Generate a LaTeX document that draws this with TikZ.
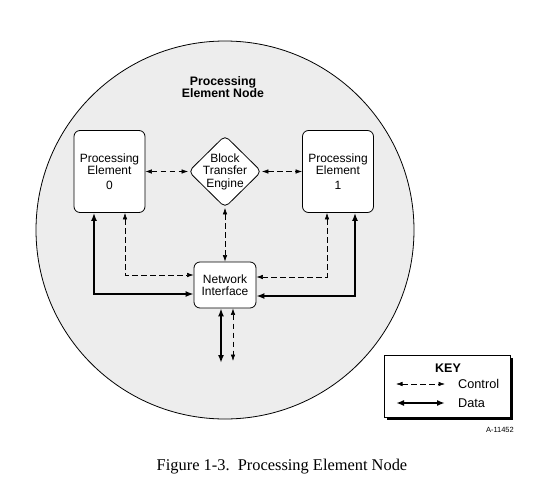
\documentclass[tikz,border=0pt]{standalone}
\usepackage{fontspec}
\setmainfont{Liberation Sans}
\newfontfamily\capfont{Liberation Serif}
\usetikzlibrary{arrows.meta,shapes.geometric,shadows}

\tikzset{
	unit/.style = {draw, thick, fill=white, rounded corners=6pt, align=center,
		font=\fontsize{12}{12.5}\selectfont},
	ctrl/.style = {semithick, dash pattern=on 5.5pt off 3.5pt,
		{Latex[length=6.5pt,width=4.5pt]}-{Latex[length=6.5pt,width=4.5pt]}},
	data/.style = {line width=2pt,
		{Latex[length=8pt,width=6pt]}-{Latex[length=8pt,width=6pt]}},
}

\begin{document}
\begin{tikzpicture}[x=1pt, y=-1pt]
\useasboundingbox (0,0) rectangle (536,485);

% node circle
\node (pen) [circle, draw, thick, fill=black!7, minimum size=378pt, inner sep=0pt] at (225,230) {};
\node (title) [align=center, font=\bfseries\fontsize{12.3}{12}\selectfont] at (223,87) {Processing\\Element Node};

% units
\node (pe0) [unit, minimum width=71pt, minimum height=82pt] at (109.5,171.5) {Processing\\Element\\[2pt]0};
\node (pe1) [unit, minimum width=71pt, minimum height=82pt] at (338,171.5) {Processing\\Element\\[2pt]1};
\node (bte) [diamond, draw, thick, fill=white, rounded corners=5pt, inner sep=0pt,
	minimum width=73pt, minimum height=72pt] at (225,171.5) {};
\node [align=center, font=\fontsize{12}{12.5}\selectfont] at (bte) {Block\\Transfer\\Engine};
\node (ni) [unit, minimum width=62pt, minimum height=46pt] at (225,285) {Network\\Interface};

% control paths
\draw[ctrl] (pe0.east) -- (bte.west);
\draw[ctrl] (bte.east) -- (pe1.west);
\draw[ctrl] (bte.south) -- (ni.north);
\draw[ctrl] ([xshift=15.5pt]pe0.south) |- ([yshift=10pt]ni.west);
\draw[ctrl] ([xshift=-11pt]pe1.south) |- ([yshift=8pt]ni.east);

% data paths
\draw[data] ([xshift=-15.5pt]pe0.south) |- ([yshift=-9pt]ni.west);
\draw[data] ([xshift=17pt]pe1.south) |- ([yshift=-11pt]ni.east);

% off-node links
\coordinate (dout) at (221,363);
\coordinate (cout) at (233,361);
\draw[data] (ni.south -| dout) -- (dout);
\draw[ctrl] (ni.south -| cout) -- (cout);

% key
\node (key) [draw, thick, fill=white, minimum width=126pt, minimum height=62pt,
	drop shadow={shadow xshift=3pt, shadow yshift=-3pt, fill=black, opacity=1}] at (447,386) {};
\node (keyt) [font=\bfseries\fontsize{12.5}{12}\selectfont] at (448,368) {KEY};
\coordinate (k1a) at (396,384);
\coordinate (k1b) at (445,384);
\coordinate (k2a) at (396,403);
\coordinate (k2b) at (445,403);
\draw[ctrl] (k1a) -- (k1b);
\draw[data] (k2a) -- (k2b);
\node (kc) [anchor=west, inner sep=0pt, font=\fontsize{12.7}{12}\selectfont] at (458,384) {Control};
\node (kd) [anchor=west, inner sep=0pt, font=\fontsize{12.7}{12}\selectfont] at (458,403) {Data};
\node (fig) [anchor=east, inner sep=0pt, font=\fontsize{7.5}{8}\selectfont] at (514,430) {A-11452};

% caption
\node (cap) [font=\capfont\fontsize{16.4}{17}\selectfont] at (282,467) {Figure 1-3.\ \ Processing Element Node};
\end{tikzpicture}
\end{document}
